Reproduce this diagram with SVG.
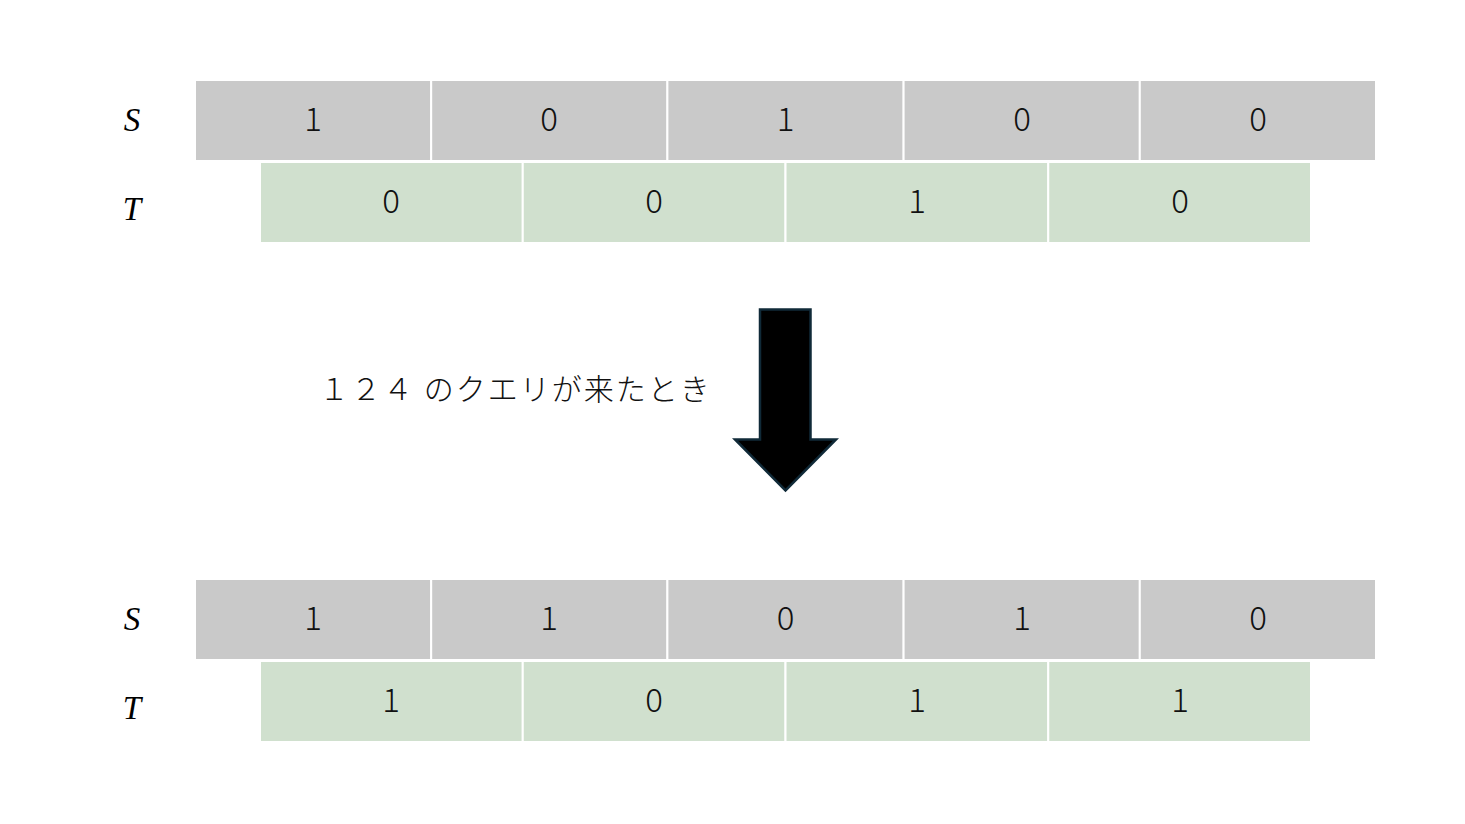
<svg xmlns="http://www.w3.org/2000/svg" width="1465" height="824" viewBox="0 0 1465 824">
<style>
.s{fill:#c9c9c9;stroke:#ffffff;stroke-width:2}
.t{fill:#d0e0ce;stroke:#ffffff;stroke-width:2}
.v{font-family:"Noto Sans CJK JP","Noto Sans",sans-serif;font-size:33px;font-weight:300;fill:#111;text-anchor:middle;dominant-baseline:central}
.lbl{font-family:"Liberation Serif",serif;font-style:italic;font-size:33px;fill:#000;text-anchor:middle;dominant-baseline:central}
.cap{font-family:"Noto Sans CJK JP",sans-serif;font-size:30px;font-weight:300;fill:#111;letter-spacing:2px}
</style>
<rect width="1465" height="824" fill="#fff"/>
<g id="labels">
<text class="lbl" x="132" y="120">S</text>
<text class="lbl" x="132" y="209">T</text>
<text class="lbl" x="132" y="619">S</text>
<text class="lbl" x="132" y="708">T</text>
</g>
<g id="S1">
<rect class="s" x="195" y="80" width="236.2" height="81"/>
<rect class="s" x="431.2" y="80" width="236.2" height="81"/>
<rect class="s" x="667.4" y="80" width="236.2" height="81"/>
<rect class="s" x="903.6" y="80" width="236.2" height="81"/>
<rect class="s" x="1139.8" y="80" width="236.2" height="81"/>
<text class="v" x="313" y="117">1</text>
<text class="v" x="549" y="117">0</text>
<text class="v" x="785.5" y="117">1</text>
<text class="v" x="1022" y="117">0</text>
<text class="v" x="1258" y="117">0</text>
</g>
<g id="T1">
<rect class="t" x="260" y="162" width="262.75" height="81"/>
<rect class="t" x="522.75" y="162" width="262.75" height="81"/>
<rect class="t" x="785.5" y="162" width="262.75" height="81"/>
<rect class="t" x="1048.25" y="162" width="262.75" height="81"/>
<text class="v" x="391" y="199">0</text>
<text class="v" x="654" y="199">0</text>
<text class="v" x="917" y="199">1</text>
<text class="v" x="1180" y="199">0</text>
</g>
<g id="arrow">
<path d="M760,309.5 H810.5 V439.5 H836 L785.5,490.5 L735,439.5 H760 Z" fill="#000" stroke="#102a38" stroke-width="2.5" stroke-linejoin="miter"/>
</g>
<g id="caption">
<text class="cap" x="319" y="400">１２４ のクエリが来たとき</text>
</g>
<g id="S2">
<rect class="s" x="195" y="579" width="236.2" height="81"/>
<rect class="s" x="431.2" y="579" width="236.2" height="81"/>
<rect class="s" x="667.4" y="579" width="236.2" height="81"/>
<rect class="s" x="903.6" y="579" width="236.2" height="81"/>
<rect class="s" x="1139.8" y="579" width="236.2" height="81"/>
<text class="v" x="313" y="616">1</text>
<text class="v" x="549" y="616">1</text>
<text class="v" x="785.5" y="616">0</text>
<text class="v" x="1022" y="616">1</text>
<text class="v" x="1258" y="616">0</text>
</g>
<g id="T2">
<rect class="t" x="260" y="661" width="262.75" height="81"/>
<rect class="t" x="522.75" y="661" width="262.75" height="81"/>
<rect class="t" x="785.5" y="661" width="262.75" height="81"/>
<rect class="t" x="1048.25" y="661" width="262.75" height="81"/>
<text class="v" x="391" y="698">1</text>
<text class="v" x="654" y="698">0</text>
<text class="v" x="917" y="698">1</text>
<text class="v" x="1180" y="698">1</text>
</g>
<g id="connectors"></g>
</svg>
